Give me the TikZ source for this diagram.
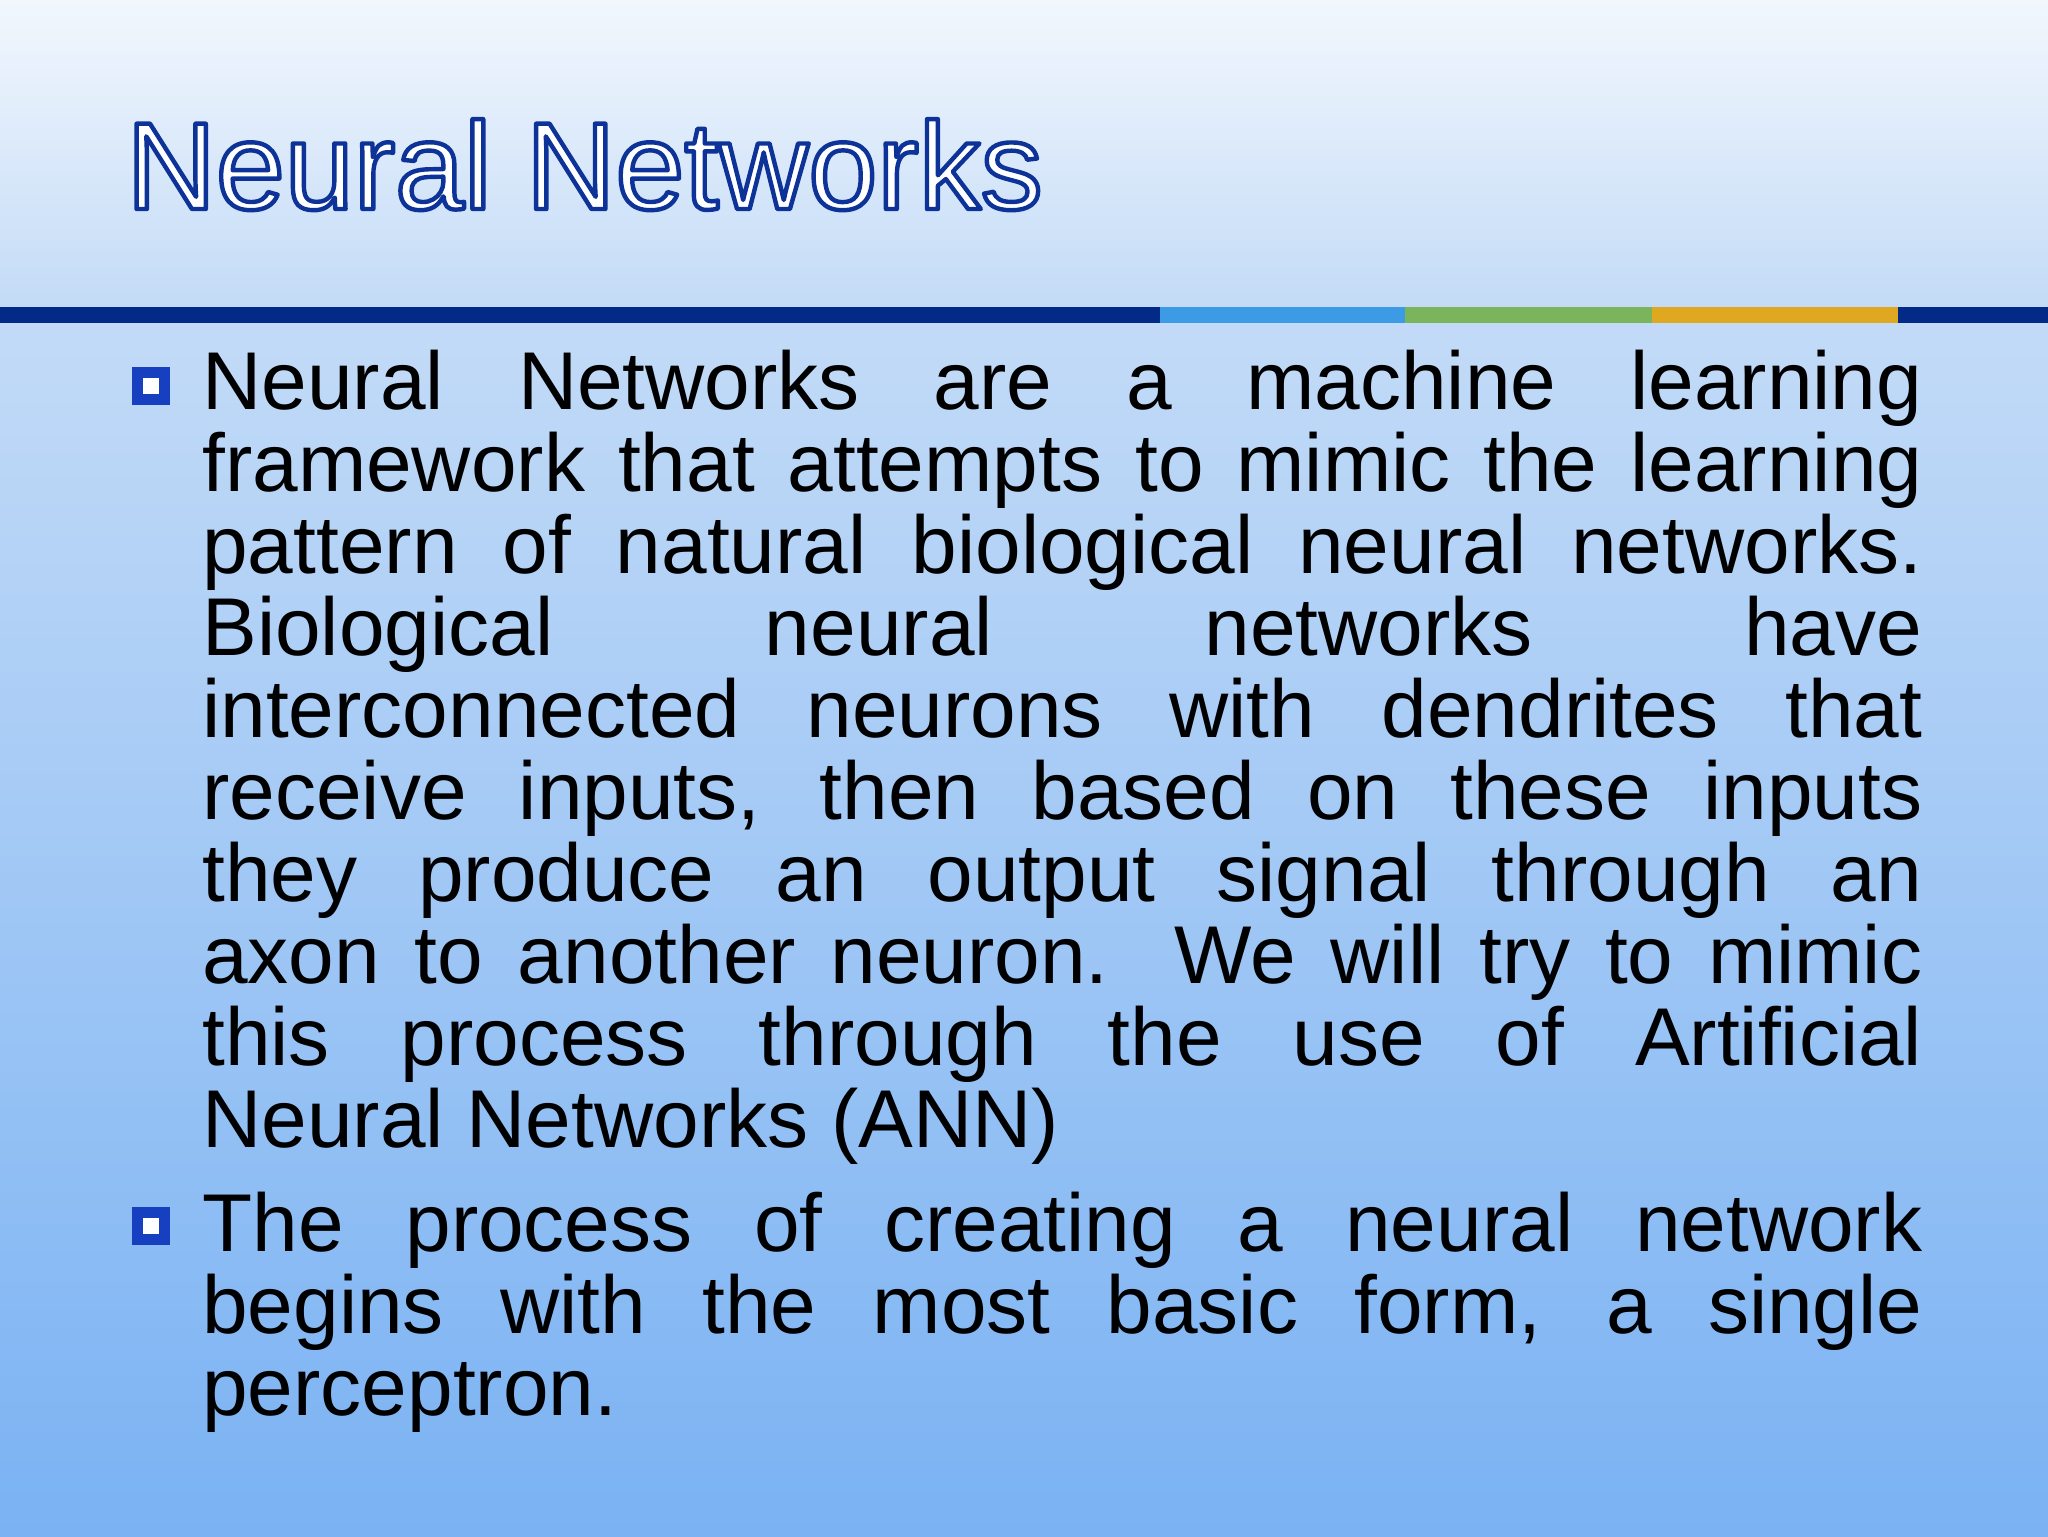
\documentclass[tikz,border=0pt]{standalone}
\usepackage{fontspec}
\setmainfont{Liberation Sans}
\definecolor{navy}{HTML}{032A87}
\definecolor{barblue}{HTML}{3D9BE6}
\definecolor{bargreen}{HTML}{7AB55C}
\definecolor{barorange}{HTML}{E0A820}
\definecolor{topc}{HTML}{F2F7FD}
\definecolor{midc}{HTML}{C3DBF7}
\definecolor{botc}{HTML}{7AB2F3}
\definecolor{bullc}{HTML}{1740C0}
\tikzset{bodytext/.style={anchor=north west,inner sep=0pt,text width=860pt,align=justify,font=\fontsize{41}{41}\selectfont},
bulletsq/.style={fill=bullc,minimum size=19pt,inner sep=0pt,draw=none}}
\begin{document}
\begin{tikzpicture}[x=1pt,y=1pt]
\useasboundingbox (0,0) rectangle (1024,-768);
\shade[top color=topc,bottom color=midc] (0,0) rectangle (1024,-155);
\shade[top color=midc,bottom color=botc] (0,-155) rectangle (1024,-768);
\fill[navy] (0,-153.5) rectangle (1024,-161.5);
\fill[barblue] (580,-153.5) rectangle (702.5,-161.5);
\fill[bargreen] (702.5,-153.5) rectangle (826,-161.5);
\fill[barorange] (826,-153.5) rectangle (949,-161.5);
% title with navy outline
\node (title) [anchor=base west,inner sep=0pt,text=white,font=\fontsize{62}{62}\selectfont] at (63,-104.5)
  {\special{pdf:literal direct 2 Tr 2.2 w 1 j 0.05 0.2 0.6 RG}Neural Networks\special{pdf:literal direct 0 Tr}};
% bullets
\node (b1) [bulletsq] at (75.5,-193) {};
\fill[white] (71.5,-189) rectangle (79.5,-197);
\node (b2) [bulletsq] at (75.5,-613) {};
\fill[white] (71.5,-609) rectangle (79.5,-617);
\node (p1) [bodytext] at (101,-175) {\spaceskip=0.28em plus 3em minus 0.1em
Neural Networks are a machine learning\linebreak
framework that attempts to mimic the learning\linebreak
pattern of natural biological neural networks.\linebreak
Biological neural networks have\linebreak
interconnected neurons with dendrites that\linebreak
receive inputs, then based on these inputs\linebreak
they produce an output signal through an\linebreak
axon to another neuron. We will try to mimic\linebreak
this process through the use of Artificial\linebreak
Neural Networks (ANN)};
\node (p2) [bodytext] at (101,-596) {\spaceskip=0.28em plus 3em minus 0.1em
The process of creating a neural network\linebreak
begins with the most basic form, a single\linebreak
perceptron.};
\end{tikzpicture}
\end{document}
